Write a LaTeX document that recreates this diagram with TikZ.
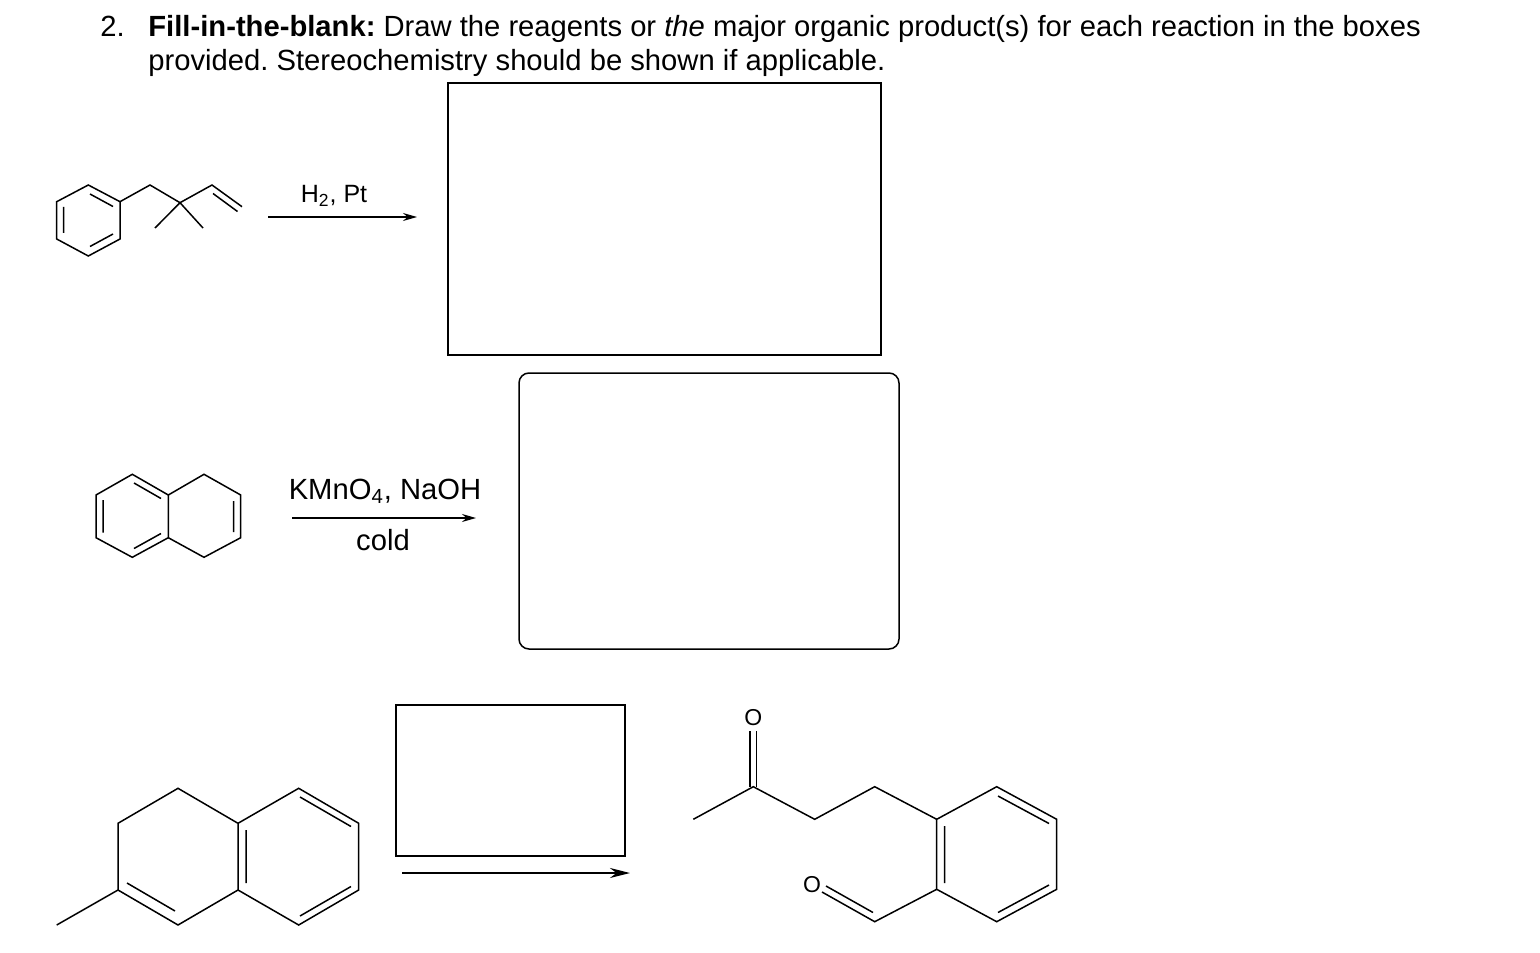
\documentclass[tikz,border=0pt]{standalone}
\usepackage{fontspec}
\setmainfont{Liberation Sans}
\usetikzlibrary{arrows.meta}
\begin{document}
\begin{tikzpicture}[x=0.5pt,y=-0.5pt,
  bond/.style={line width=0.75pt,line join=miter},
  rxn/.style={line width=0.75pt,-{Stealth[length=7pt,width=4pt]}},
  blank/.style={draw,line width=0.75pt},
  txt/.style={font=\fontsize{14.6}{17}\selectfont,inner sep=0pt},
  atom/.style={font=\fontsize{11.5}{13}\selectfont,inner sep=1pt}]
\frenchspacing
\useasboundingbox (0,0) rectangle (1540,952);
% header
\node[txt,anchor=base west] (n2) at (100,37) {2.};
\node[txt,anchor=base west] (l1) at (148,37) {\textbf{Fill-in-the-blank:} Draw the reagents or \textit{the} major organic product(s) for each reaction in the boxes};
\node[txt,anchor=base west] (l2) at (148,71) {provided. Stereochemistry should be shown if applicable.};
% boxes
\draw[blank] (448,83) rectangle (881,355);
\draw[blank,rounded corners=5pt] (519,373) rectangle (899,649);
\draw[blank] (396,705) rectangle (625,856);
% molecule 1
\draw[bond] (88.3,185)--(120,201.7)--(120,239)--(88.3,256)--(56.7,239)--(56.7,201.7)--cycle;
\draw[bond] (90,194)--(113,206.5) (113,234)--(90,246.5) (63.5,207)--(63.5,233);
\draw[bond] (120,201.7)--(150,185)--(180,202.7)--(212,185)--(242,206.7);
\draw[bond] (213,193.5)--(237.5,211.5);
\draw[bond] (155,228)--(180,202.7)--(203,228);
\coordinate (a1s) at (268,217); \coordinate (a1e) at (417,217);
\draw[rxn] (a1s)--(a1e);
\node[atom,font=\fontsize{12.5}{14}\selectfont] (r1) at (334,196) {H\textsubscript{2}, Pt};
% molecule 2
\draw[bond] (132.3,474.3)--(168.3,495)--(168.3,537.7)--(132.3,557.3)--(96,537.7)--(96,495)--cycle;
\draw[bond] (168.3,495)--(204,474.3)--(240.7,495)--(240.7,537.7)--(204,557.3)--(168.3,537.7);
\draw[bond] (134,483)--(161,498.5) (161,533.5)--(134,548.5) (103,500)--(103,532.5) (233.5,501)--(233.5,532);
\coordinate (a2s) at (292,518); \coordinate (a2e) at (476,518);
\draw[rxn] (a2s)--(a2e);
\node[txt] (r2) at (385,491) {KMnO\textsubscript{4}, NaOH};
\node[txt] (r3) at (383,540) {cold};
% molecule 3
\draw[bond] (178,788.3)--(118,823.3)--(118,890)--(178,925)--(238,890)--(238,823.3)--cycle;
\draw[bond] (118,890)--(56.7,925);
\draw[bond] (127,883)--(175,911);
\draw[bond] (238,823.3)--(298.7,788.3)--(358.7,823.3)--(358.7,890)--(298.7,925)--(238,890);
\draw[bond] (246,830)--(246,883) (300,797)--(351,826.5) (351,886.5)--(300,916);
\coordinate (a3s) at (402,873); \coordinate (a3e) at (630,873);
\draw[line width=1.1pt,-{Stealth[length=10pt,width=5pt]}] (a3s)--(a3e);
% molecule 4
\node[atom] (o1) at (753.3,718) {O};
\node[atom] (o2) at (812,885) {O};
\draw[bond] (693.3,819.3)--(753.3,786.7)--(814.7,819.3)--(874.7,786.7)--(936.7,819.3);
\draw[bond] (750,786.7)--(750,731) (756.6,786.7)--(756.6,731);
\draw[bond] (936.7,819.3)--(996.7,786.7)--(1056.7,819.3)--(1056.7,889.3)--(996.7,921.7)--(936.7,889.3)--cycle;
\draw[bond] (998,796)--(1049,823.5) (1049,885)--(998,912.5) (944.5,826)--(944.5,883);
\draw[bond] (936.7,889.3)--(874.7,921.7)--(822,892);
\draw[bond] (873,912.5)--(826,886);
\end{tikzpicture}
\end{document}
